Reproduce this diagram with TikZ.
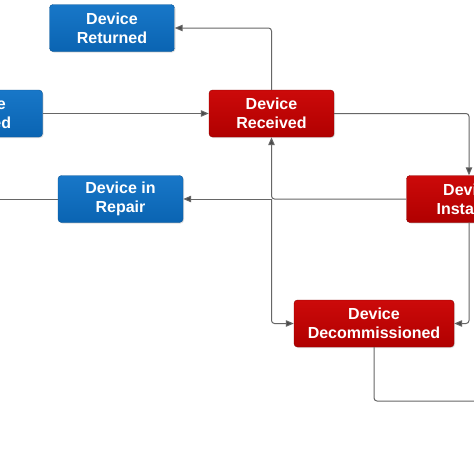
\documentclass[tikz,border=0pt]{standalone}
\usepackage{fontspec}
\setmainfont{Liberation Sans}
\usetikzlibrary{arrows.meta,shadows}
\definecolor{bluetop}{HTML}{1877C8}
\definecolor{bluebot}{HTML}{0A64B2}
\definecolor{blueedge}{HTML}{0A5696}
\definecolor{redtop}{HTML}{CC0A0A}
\definecolor{redbot}{HTML}{B00000}
\definecolor{rededge}{HTML}{8C0000}
\definecolor{linegray}{HTML}{666666}
\definecolor{tipgray}{HTML}{4A4A4A}
\tikzset{
  statebox/.style={rectangle, rounded corners=3.5pt, minimum height=47pt,
    minimum width=125pt, align=center, text=white,
    font=\fontsize{16}{19}\selectfont\bfseries,
    drop shadow={opacity=0.25, shadow xshift=1pt, shadow yshift=-1pt}},
  bluebox/.style={statebox, top color=bluetop, bottom color=bluebot, draw=blueedge},
  redbox/.style={statebox, top color=redtop, bottom color=redbot, draw=rededge},
  conn/.style={draw=linegray, line width=1pt, rounded corners=3pt},
  arr/.style={conn, -{Triangle[length=8pt,width=6.5pt,fill=tipgray]}}
}
\begin{document}
\begin{tikzpicture}[x=1pt,y=-1pt]
\useasboundingbox (0,0) rectangle (474,474);
\clip (0,0) rectangle (474,474);
\fill[white] (0,0) rectangle (474,474);
\node[bluebox] (ret) at (112,28) {Device\\Returned};
\node[bluebox] (ord) at (-20,113.5) {Device\\Ordered};
\node[redbox] (rec) at (271.5,113.5) {Device\\Received};
\node[bluebox] (rep) at (120.5,199) {Device in\\Repair};
\node[redbox] (ins) at (469,199) {Device\\Installed};
\node[redbox, minimum width=160pt] (dec) at (374,323.5) {Device\\Decommissioned};
\coordinate (j) at (rec.south |- ins.west);
\coordinate (leftend) at (0,199);
\coordinate (rightend) at (480,401);
\draw[arr] (rec.north) |- (ret.east);
\draw[arr] (ord.east) -- (rec.west);
\draw[arr] (rec.east) -| (ins.north);
\draw[arr] (ins.west) -| (rec.south);
\draw[arr] (j) -- (rep.east);
\draw[arr] (j) |- (dec.west);
\draw[arr] (ins.south) |- (dec.east);
\draw[conn] (dec.south) |- (rightend);
\draw[conn] (rep.west) -- (leftend);
\end{tikzpicture}
\end{document}
